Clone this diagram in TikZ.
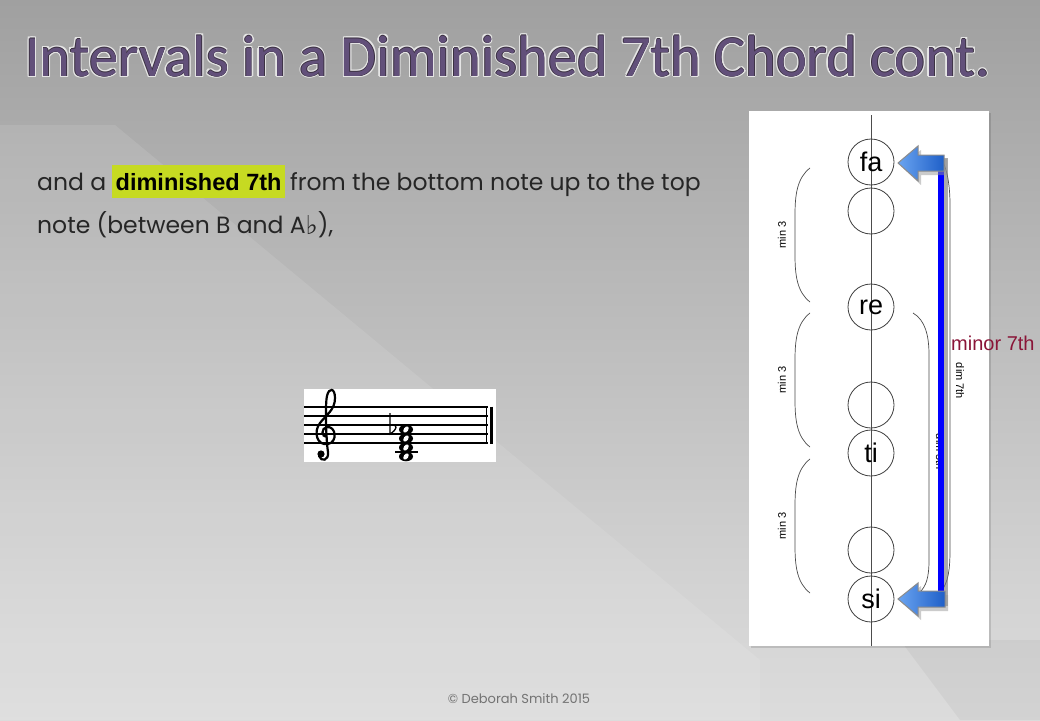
\documentclass[tikz,border=0pt]{standalone}
\usepackage{fontspec}
\setmainfont{Poppins}
\newfontfamily\titlefont{Carlito}
\newfontfamily\arialfont{Liberation Sans}
\newfontfamily\djv{DejaVu Sans}
\definecolor{titlepurple}{HTML}{62507A}
\definecolor{titleedge}{HTML}{3A3040}
\definecolor{hilite}{HTML}{C6DA22}
\definecolor{minorred}{HTML}{8A1538}
\definecolor{arrowlight}{HTML}{6AA4F0}
\definecolor{arrowdark}{HTML}{1F5FC8}
\definecolor{bgtop}{HTML}{707070}
\definecolor{bgupper}{HTML}{A0A0A0}
\definecolor{bgmid}{HTML}{D2D2D2}
\definecolor{bgbot}{HTML}{F4F4F4}
\pgfdeclareverticalshading{slidebg}{100bp}{color(0bp)=(bgbot); color(35bp)=(bgmid); color(75bp)=(bgupper); color(100bp)=(bgtop)}
\tikzset{
  notecircle/.style={circle, draw=black!75, line width=0.8pt, minimum size=46pt, inner sep=0pt},
  solfa/.style={font=\arialfont\fontsize{27}{27}\selectfont, text=black},
  minlabel/.style={font=\arialfont\fontsize{11}{11}\selectfont, rotate=90, text=black},
  brace/.style={draw=black!70, line width=0.7pt},
  stafline/.style={line width=1.1pt, black},
  blockarrow/.style={left color=arrowlight, right color=arrowdark, draw=black!45, line width=1pt},
  arrowshadow/.style={fill=black!40, opacity=0.5},
  titletext/.style={anchor=base west, inner sep=0pt, font=\titlefont\fontsize{58.5}{58.5}\selectfont},
  bodytext/.style={anchor=base west, inner sep=0pt, font=\fontsize{23.5}{23.5}\selectfont, text=black!85},
}
\begin{document}
\begin{tikzpicture}[x=1pt,y=-1pt]
\useasboundingbox (0,0) rectangle (1040,720);
% background
\shade[shading=slidebg] (0,0) rectangle (1040,720);
\fill[white, opacity=0.1] (0,125) -- (115,125) -- (760,660) -- (760,720) -- (0,720) -- cycle;
\fill[black, opacity=0.04] (900,640) -- (1040,640) -- (1040,720) -- (960,720) -- cycle;
% title
\foreach \dx/\dy in {1.8/0,-1.8/0,0/1.8,0/-1.8,1.3/1.3,-1.3/1.3,1.3/-1.3,-1.3/-1.3}{
  \node[titletext, text=white!80!gray] at ({25+\dx},{76+\dy}) {Intervals in a Diminished 7th Chord cont.};
}
\foreach \dx/\dy in {0.6/0,-0.6/0,0/0.6,0/-0.6}{
  \node[titletext, text=titleedge] at ({25+\dx},{76+\dy}) {Intervals in a Diminished 7th Chord cont.};
}
\node[titletext, text=titlepurple] (title) at (25,76) {Intervals in a Diminished 7th Chord cont.};
% body text
\node[bodytext] (l1a) at (37,190) {and a};
\node[anchor=base west, fill=hilite, inner xsep=3.5pt, inner ysep=0pt,
      font=\arialfont\bfseries\fontsize{23.5}{23.5}\selectfont, text=black] (hl) at (112,190) {\raisebox{0pt}[25pt][8pt]{diminished 7th}};
\node[bodytext] (l1b) at (290,190) {from the bottom note up to the top};
\node[bodytext] (line2) at (37,233)
  {note (between B and A{\djv\fontsize{26}{26}\selectfont\raisebox{-1pt}{♭}}),};
% staff picture
\fill[white] (304,389) rectangle (496,462);
\foreach \yy in {407,416,425,434,443}{
  \draw[stafline] (304,\yy) -- (488,\yy);
}
\draw[line width=1pt] (486,406.5) -- (486,443.5);
\draw[line width=3pt] (491.5,406.5) -- (491.5,443.5);
% treble clef
\draw[line width=2.2pt, line cap=round] (327,437) .. controls (321,437) and (321,428) .. (327,427)
  .. controls (336,426) and (338,442) .. (328,444) .. controls (317,446) and (313,432) .. (320,423)
  .. controls (326,415) and (335,410) .. (335,398) .. controls (335,388) and (329,387) .. (327,396)
  .. controls (325,404) and (326,440) .. (328,452) .. controls (329,461) and (321,462) .. (319,456);
\fill (321,454) circle (3.6pt);
% chord
\draw[line width=1.2pt] (395,452) -- (418,452);
\foreach \yy in {429.5,438.5,447.5,456.5}{
  \fill (406,\yy) ellipse (7pt and 4.8pt);
  \fill[white, rotate around={-35:(406,\yy)}] (406,\yy) ellipse (2.2pt and 3.6pt);
}
\draw[line width=1.3pt] (390,413) -- (390,434) .. controls (397,430) and (399,423) .. (390,425);
% right panel
\fill[black, opacity=0.12] (751,113) rectangle (991,648);
\fill[white] (749,111) rectangle (989,646);
\draw[black!70, line width=0.7pt] (871,115) -- (871,646);
\node[notecircle] (fa) at (871,162) {};
\node[notecircle] (e1) at (871,211) {};
\node[notecircle] (re) at (871,307) {};
\node[notecircle] (e2) at (871,405) {};
\node[notecircle] (ti) at (871,453) {};
\node[notecircle] (e3) at (871,550) {};
\node[notecircle] (si) at (871,599) {};
\node[solfa] at (fa) {fa};
\node[solfa] at (re) {re};
\node[solfa] at (ti) {ti};
\node[solfa] at (si) {si};
% left arcs
\draw[brace] (810,168) .. controls (797,178) and (795,195) .. (795,215) -- (795,255) .. controls (795,275) and (797,292) .. (810,302);
\draw[brace] (810,313) .. controls (797,323) and (795,340) .. (795,360) -- (795,400) .. controls (795,420) and (797,437) .. (810,447);
\draw[brace] (810,459) .. controls (797,469) and (795,486) .. (795,506) -- (795,546) .. controls (795,566) and (797,583) .. (810,593);
\node[minlabel] (m1) at (782,235) {min 3};
\node[minlabel] (m2) at (782,380) {min 3};
\node[minlabel] (m3) at (782,526) {min 3};
% right arcs
\draw[brace] (913,313) .. controls (925,320) and (929,335) .. (929,355) -- (929,560) .. controls (929,578) and (926,586) .. (920,592);
\draw[brace] (941,158) .. controls (947,168) and (950,185) .. (950,205) -- (950,550) .. controls (950,570) and (948,582) .. (942,590);
\node[font=\arialfont\fontsize{11}{11}\selectfont, rotate=-90] (d5) at (940,452) {dim 5th};
\node[font=\arialfont\fontsize{11}{11}\selectfont, rotate=-90] (d7) at (960,381) {dim 7th};
\node[anchor=base west, inner sep=0pt, font=\arialfont\fontsize{20}{20}\selectfont, text=minorred] (minor) at (951,350) {minor 7th};
% blue bar
\coordinate (bartop) at (941,158);
\coordinate (barbot) at (941,606);
\draw[black!55, line width=10pt, opacity=0.6] ([xshift=1.5pt]bartop) -- ([xshift=1.5pt]barbot);
\draw[blue, line width=6pt] (bartop) -- (barbot);
% block arrows
\fill[arrowshadow] (901,166) -- (921,150) -- (921,159) -- (947,159) -- (947,175) -- (921,175) -- (921,185) -- cycle;
\draw[blockarrow] (898,163) -- (918,146) -- (918,155) -- (944,155) -- (944,171) -- (918,171) -- (918,181) -- cycle;
\fill[arrowshadow] (901,602) -- (921,586) -- (921,595) -- (948,595) -- (948,611) -- (921,611) -- (921,620) -- cycle;
\draw[blockarrow] (898,599) -- (918,583) -- (918,591) -- (945,591) -- (945,607) -- (918,607) -- (918,616) -- cycle;
% copyright
\node[font=\fontsize{13}{13}\selectfont, text=black!55] (copy) at (519,699) {© Deborah Smith 2015};
\end{tikzpicture}
\end{document}
